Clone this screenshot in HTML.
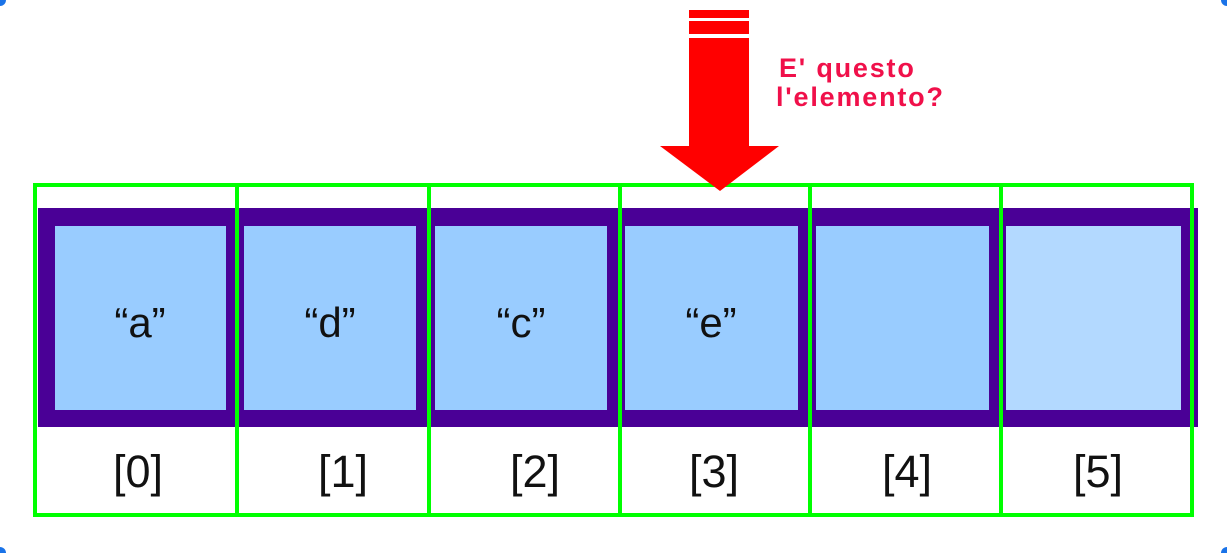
<!DOCTYPE html>
<html><head><style>
html,body{margin:0;padding:0;background:#fff;width:1227px;height:553px;overflow:hidden}
</style></head><body>
<svg width="1227" height="553" xmlns="http://www.w3.org/2000/svg">
<rect x="0" y="0" width="1227" height="553" fill="#fff"/>
<circle cx="0" cy="553" r="6" fill="#1a73e8"/>
<circle cx="1227" cy="553" r="6" fill="#1a73e8"/>
<circle cx="0" cy="0" r="6" fill="#1a73e8"/>
<circle cx="1227" cy="0" r="6" fill="#1a73e8"/>
<rect x="38" y="208" width="1160" height="219" fill="#4a0096"/>
<rect x="55" y="226" width="171" height="184" fill="#99ccff"/>
<rect x="244" y="226" width="172" height="184" fill="#99ccff"/>
<rect x="435" y="226" width="172" height="184" fill="#99ccff"/>
<rect x="625" y="226" width="173" height="184" fill="#99ccff"/>
<rect x="816" y="226" width="173" height="184" fill="#99ccff"/>
<rect x="1006" y="226" width="175" height="184" fill="#b3d9ff"/>
<g fill="none" stroke="#00ff00" stroke-width="4">
<rect x="35" y="185" width="1157" height="330"/>
<line x1="237" y1="185" x2="237" y2="515"/>
<line x1="429" y1="185" x2="429" y2="515"/>
<line x1="620" y1="185" x2="620" y2="515"/>
<line x1="810" y1="185" x2="810" y2="515"/>
<line x1="1001" y1="185" x2="1001" y2="515"/>
</g>
<g font-family="Liberation Sans, Arial, sans-serif" font-size="42" fill="#111" text-anchor="middle">
<text x="140" y="337">“a”</text>
<text x="330" y="337">“d”</text>
<text x="521" y="337">“c”</text>
<text x="711" y="337">“e”</text>
</g>
<g font-family="Liberation Sans, Arial, sans-serif" font-size="45" fill="#111" text-anchor="middle">
<text x="138" y="487">[0]</text>
<text x="343" y="487">[1]</text>
<text x="535" y="487">[2]</text>
<text x="714" y="487">[3]</text>
<text x="907" y="487">[4]</text>
<text x="1098" y="487">[5]</text>
</g>
<g fill="#ff0000">
<rect x="689" y="10" width="60" height="8"/>
<rect x="689" y="21" width="60" height="13"/>
<rect x="689" y="38" width="60" height="109"/>
<polygon points="660,146 779,146 720,191"/>
</g>
<g font-family="Liberation Sans, Arial, sans-serif" font-weight="bold" font-size="27" fill="#f0104a" letter-spacing="1.8">
<text x="779" y="77">E' questo</text>
<text x="776" y="106">l'elemento?</text>
</g>
</svg>
</body></html>
